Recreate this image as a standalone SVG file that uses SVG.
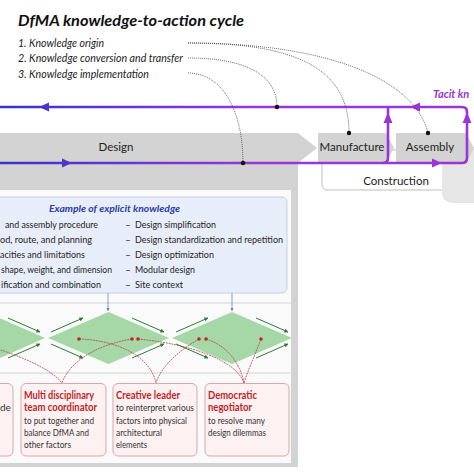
<svg xmlns="http://www.w3.org/2000/svg" width="474" height="474" viewBox="0 0 474 474">
<defs>
<linearGradient id="flow" gradientUnits="userSpaceOnUse" x1="0" y1="0" x2="260" y2="0">
<stop offset="0" stop-color="#3434c8"/>
<stop offset="1" stop-color="#9a36d8"/>
</linearGradient>
<marker id="ga" viewBox="0 0 10 10" refX="9" refY="5" markerWidth="4" markerHeight="4" orient="auto">
<path d="M0,0 L10,5 L0,10 Z" fill="#2e7a36"/>
</marker>
<marker id="ba" viewBox="0 0 10 10" refX="9" refY="5" markerWidth="4" markerHeight="4" orient="auto">
<path d="M0,0 L10,5 L0,10 Z" fill="#6f82c6"/>
</marker>
</defs>
<style>
text{font-family:Lato,'Open Sans','Liberation Sans',sans-serif}
.ttl{font-size:15px;font-weight:bold;font-style:italic;fill:#111}
.item{font-size:11.5px;font-style:italic;fill:#222}
.stage{font-size:11.5px;fill:#222}
.ek{font-size:10px;fill:#222}
.eks{font-size:9px;fill:#222}
.ekh{font-size:10px;font-weight:bold;font-style:italic;fill:#2a3ca8}
.rh{font-size:10.5px;font-weight:bold;fill:#c01f2a}
.rb{font-size:10px;fill:#333}
.tacit{font-size:11px;font-weight:bold;font-style:italic;fill:#9b35d6}
.flow{fill:none;stroke:url(#flow);stroke-width:2.6}
.ah{fill:url(#flow)}
.dotl{fill:none;stroke:#444;stroke-width:0.8;stroke-dasharray:1 1}
.red{fill:none;stroke:#b3434b;stroke-width:0.8;stroke-dasharray:2 0.8}
.rdot{fill:#c4232c}
.grn{fill:none;stroke:#2e7a36;stroke-width:1;marker-end:url(#ga)}
.blu{fill:none;stroke:#6f82c6;stroke-width:0.8;marker-end:url(#ba)}
.role{fill:#fdf1f1;stroke:#dca6aa;stroke-width:1}
.chev{fill:#d3d3d3}
.diam{fill:#a5d7a7}
.sep{stroke:#c8c8c8;stroke-width:0.8}
</style>

<!-- construction frame and right clipped shape -->
<g id="construction">
<rect x="322" y="150" width="170" height="40" rx="5" fill="#fff" stroke="#bdbdbd" stroke-width="1"/>
<rect x="442" y="150" width="60" height="53" rx="10" fill="#e6e6e6"/>
<text class="stage" x="396" y="185" text-anchor="middle">Construction</text>
</g>

<!-- design stage + panel -->
<g id="design">
<path class="chev" d="M-2,133 H298 L317,148 L298,163 V467 H-2 Z"/>
<rect x="-2" y="190" width="293" height="273" fill="#fafafa"/>
<text class="stage" x="116" y="151" text-anchor="middle">Design</text>
</g>
<g id="manufacture">
<path class="chev" d="M318,133 H386 L394,148 L386,163 H318 Z"/>
<text class="stage" x="352" y="151" text-anchor="middle">Manufacture</text>
</g>
<g id="assembly">
<path class="chev" d="M396,133 H466 L474,148 L466,163 H396 Z"/>
<text class="stage" x="430" y="151" text-anchor="middle">Assembly</text>
</g>

<!-- explicit knowledge box -->
<g id="explicit">
<rect x="-6" y="197" width="293" height="96" rx="5" fill="#e8eef9" stroke="#c3d0ec" stroke-width="1"/>
<text class="ekh" x="49" y="212" textLength="131" lengthAdjust="spacingAndGlyphs">Example of explicit knowledge</text>
<text class="ek" x="5" y="227.5" textLength="93" lengthAdjust="spacingAndGlyphs">and assembly procedure</text>
<text class="ek" x="0" y="242.5" textLength="92" lengthAdjust="spacingAndGlyphs">od, route, and planning</text>
<text class="ek" x="0" y="257.5" textLength="85" lengthAdjust="spacingAndGlyphs">acities and limitations</text>
<text class="eks" x="1" y="272.5" textLength="111" lengthAdjust="spacingAndGlyphs">shape, weight, and dimension</text>
<text class="ek" x="1" y="287.5" textLength="100" lengthAdjust="spacingAndGlyphs">ification and combination</text>
<text class="ek" x="125" y="227.5">–</text>
<text class="ek" x="125" y="242.5">–</text>
<text class="ek" x="125" y="257.5">–</text>
<text class="ek" x="125" y="272.5">–</text>
<text class="ek" x="125" y="287.5">–</text>
<text class="ek" x="135" y="227.5" textLength="81" lengthAdjust="spacingAndGlyphs">Design simplification</text>
<text class="ek" x="135" y="242.5" textLength="148" lengthAdjust="spacingAndGlyphs">Design standardization and repetition</text>
<text class="ek" x="135" y="257.5" textLength="79" lengthAdjust="spacingAndGlyphs">Design optimization</text>
<text class="ek" x="135" y="272.5" textLength="60" lengthAdjust="spacingAndGlyphs">Modular design</text>
<text class="ek" x="135" y="287.5" textLength="48" lengthAdjust="spacingAndGlyphs">Site context</text>
</g>

<!-- diamond band -->
<g id="band">
<line class="sep" x1="-2" y1="303" x2="291" y2="303"/>
<line class="sep" x1="-2" y1="373" x2="291" y2="373"/>
<path class="diam" d="M-75,338 L-15,311.5 L45,338 L-15,364.5 Z"/>
<path class="diam" d="M48,338 L108.5,312 L169,338 L108.5,364 Z"/>
<path class="diam" d="M172,338 L232,312 L292,338 L232,364 Z"/>
</g>

<g id="connectors">
<!-- blue arrows from explicit box -->
<line class="blu" x1="108" y1="293" x2="108" y2="311"/>
<line class="blu" x1="232" y1="293" x2="232" y2="311"/>
<!-- green converge/diverge arrows -->
<line class="grn" x1="8" y1="318" x2="40" y2="332"/>
<line class="grn" x1="8" y1="358" x2="40" y2="344"/>
<line class="grn" x1="51" y1="332" x2="83" y2="318"/>
<line class="grn" x1="51" y1="344" x2="83" y2="358"/>
<line class="grn" x1="132" y1="318" x2="164" y2="332"/>
<line class="grn" x1="132" y1="358" x2="164" y2="344"/>
<line class="grn" x1="176" y1="332" x2="208" y2="318"/>
<line class="grn" x1="176" y1="344" x2="208" y2="358"/>
<line class="grn" x1="256" y1="318" x2="288" y2="332"/>
<line class="grn" x1="256" y1="358" x2="288" y2="344"/>
<!-- red role links -->
<path class="red" d="M-2,349 C25,358 52,370 62,383"/>
<path class="red" d="M132,339 C100,344 70,360 62,383"/>
<path class="red" d="M79,339 C115,340 150,355 156,383"/>
<path class="red" d="M199,339 C180,350 162,365 156,383"/>
<path class="red" d="M138,339 C190,344 236,360 244,383"/>
<path class="red" d="M206,339 C226,345 240,362 244,383"/>
<path class="red" d="M261,339 C255,355 248,370 244,383"/>
<circle class="rdot" cx="79" cy="339" r="1.8"/>
<circle class="rdot" cx="132" cy="339" r="1.8"/>
<circle class="rdot" cx="138" cy="339" r="1.8"/>
<circle class="rdot" cx="199" cy="339" r="1.8"/>
<circle class="rdot" cx="206" cy="339" r="1.8"/>
<circle class="rdot" cx="261" cy="339" r="1.8"/>

<!-- knowledge flow loop -->
<path class="flow" d="M-2,107 H462 Q467,107 467,112 V158 Q467,163 462,163 H-2"/>
<path class="flow" d="M383,163 Q388,163 388,158 V107"/>
<path class="ah" d="M39,107 L49,102.5 L49,111.5 Z"/>
<path class="ah" d="M410,107 L420,102.5 L420,111.5 Z"/>
<path class="ah" d="M72,163 L62,158.5 L62,167.5 Z"/>
<path class="ah" d="M442,163 L432,158.5 L432,167.5 Z"/>
<path class="ah" d="M388,112.5 L383.5,123 L392.5,123 Z"/>
<path class="ah" d="M467,112.5 L462.5,123 L471.5,123 Z"/>

<!-- dotted knowledge cycle links -->
<path class="dotl" d="M188,43 C300,43 349,70 349,133"/>
<path class="dotl" d="M188,43 C330,43 415,80 428,133"/>
<path class="dotl" d="M188,58 C240,58 277,72 277,107"/>
<path class="dotl" d="M188,73 C222,73 243,110 243,163"/>
<circle cx="277" cy="107" r="2.3" fill="#111"/>
<circle cx="243" cy="163" r="2.3" fill="#111"/>
<circle cx="349" cy="133" r="2.2" fill="#111"/>
<circle cx="428" cy="133" r="2.2" fill="#111"/>
</g>

<!-- role boxes -->
<g id="role0">
<rect class="role" x="-10" y="383.5" width="23" height="72.5" rx="5"/>
<text class="rb" x="0" y="411">de</text>
</g>
<g id="role1">
<rect class="role" x="21" y="383.5" width="85" height="72.5" rx="5"/>
<text class="rh" x="24" y="398.5" textLength="70" lengthAdjust="spacingAndGlyphs">Multi disciplinary</text>
<text class="rh" x="24" y="411" textLength="73" lengthAdjust="spacingAndGlyphs">team coordinator</text>
<text class="rb" x="24" y="423.5" textLength="70" lengthAdjust="spacingAndGlyphs">to put together and</text>
<text class="rb" x="24" y="435.5" textLength="65" lengthAdjust="spacingAndGlyphs">balance DfMA and</text>
<text class="rb" x="24" y="447.5" textLength="47" lengthAdjust="spacingAndGlyphs">other factors</text>
</g>
<g id="role2">
<rect class="role" x="113" y="383.5" width="84" height="72.5" rx="5"/>
<text class="rh" x="116" y="398.5" textLength="64" lengthAdjust="spacingAndGlyphs">Creative leader</text>
<text class="rb" x="116" y="411" textLength="78" lengthAdjust="spacingAndGlyphs">to reinterpret various</text>
<text class="rb" x="116" y="423.5" textLength="71" lengthAdjust="spacingAndGlyphs">factors into physical</text>
<text class="rb" x="116" y="435.5" textLength="46" lengthAdjust="spacingAndGlyphs">architectural</text>
<text class="rb" x="116" y="447.5" textLength="31" lengthAdjust="spacingAndGlyphs">elements</text>
</g>
<g id="role3">
<rect class="role" x="205" y="383.5" width="84" height="72.5" rx="5"/>
<text class="rh" x="208" y="398.5" textLength="49" lengthAdjust="spacingAndGlyphs">Democratic</text>
<text class="rh" x="208" y="411" textLength="44" lengthAdjust="spacingAndGlyphs">negotiator</text>
<text class="rb" x="208" y="423.5" textLength="57" lengthAdjust="spacingAndGlyphs">to resolve many</text>
<text class="rb" x="208" y="435.5" textLength="58" lengthAdjust="spacingAndGlyphs">design dilemmas</text>
</g>

<!-- titles -->
<g id="title">
<text class="ttl" x="18" y="25.5" textLength="226" lengthAdjust="spacingAndGlyphs">DfMA knowledge-to-action cycle</text>
<text class="item" x="18" y="46.5" textLength="86" lengthAdjust="spacingAndGlyphs">1. Knowledge origin</text>
<text class="item" x="18" y="62" textLength="165" lengthAdjust="spacingAndGlyphs">2. Knowledge conversion and transfer</text>
<text class="item" x="18" y="77.5" textLength="131" lengthAdjust="spacingAndGlyphs">3. Knowledge implementation</text>
<text class="tacit" x="433" y="98">Tacit kn</text>
</g>
</svg>
